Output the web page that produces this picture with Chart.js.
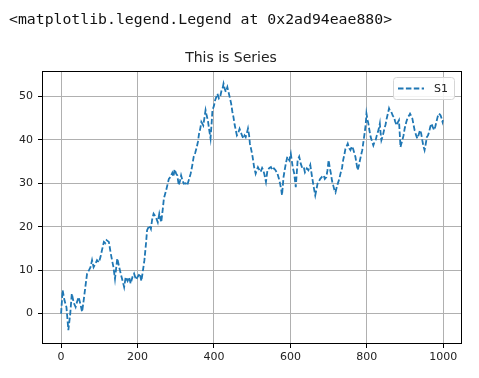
<!DOCTYPE html>
<html lang="en">
<head>
  <meta charset="UTF-8">
  <title>This is Series</title>
  <script src="https://cdn.jsdelivr.net/npm/chart.js"></script>
  <style>
    * {
      margin: 0;
      padding: 0;
    }
    body {
      width: 479px;
      height: 378px;
      background: #fff;
      position: relative;
      overflow: hidden;
    }
    #repr {
      position: absolute;
      left: 9px;
      top: 10px;
      font-family: "DejaVu Sans Mono", monospace;
      font-size: 14.8px;
      line-height: 17px;
      color: #111;
      white-space: pre;
    }
    #chart-box {
      position: absolute;
      left: 0;
      top: 0;
      width: 479px;
      height: 378px;
    }
  </style>
</head>
<body>
  <div id="chart-box">
    <canvas id="series-chart" width="479" height="378"></canvas>
  </div>
  <div id="repr">&lt;matplotlib.legend.Legend at 0x2ad94eae880&gt;</div>

  <script>
    // values (index -> value)
    var seriesIndex = [
      0, 4, 9, 14, 19, 24, 28, 33, 38, 42, 46, 51, 55, 59, 64, 68, 73, 77, 81, 85,
      90, 94, 99, 103, 107, 112, 116, 119, 125, 130, 134, 137, 141, 147, 152, 156, 161, 165, 169, 174,
      178, 182, 187, 191, 196, 200, 206, 210, 213, 218, 222, 225, 231, 235, 238, 242, 248, 253, 257, 262,
      266, 269, 275, 279, 282, 286, 291, 294, 297, 301, 304, 308, 311, 314, 318, 321, 326, 330, 335, 339,
      343, 347, 351, 355, 358, 361, 364, 367, 372, 375, 378, 381, 384, 388, 391, 394, 396, 400, 403, 406,
      409, 413, 416, 420, 423, 425, 428, 431, 435, 439, 442, 445, 448, 451, 454, 457, 460, 463, 467, 470,
      474, 477, 480, 483, 486, 489, 492, 494, 498, 501, 505, 509, 512, 515, 519, 522, 526, 529, 532, 536,
      540, 545, 549, 553, 557, 561, 566, 570, 573, 576, 578, 582, 585, 588, 592, 597, 601, 606, 610, 614,
      619, 623, 627, 631, 635, 638, 643, 647, 652, 656, 661, 665, 668, 671, 675, 678, 683, 687, 690, 694,
      697, 700, 703, 706, 709, 712, 715, 718, 721, 724, 728, 731, 735, 738, 741, 744, 747, 750, 754, 757,
      761, 764, 767, 770, 773, 776, 779, 782, 785, 788, 791, 794, 797, 799, 802, 804, 807, 810, 814, 817,
      820, 823, 826, 829, 832, 834, 836, 838, 842, 845, 849, 852, 855, 858, 861, 864, 868, 871, 874, 878,
      881, 884, 886, 888, 890, 893, 896, 899, 903, 906, 910, 913, 916, 919, 922, 925, 929, 932, 935, 939,
      942, 945, 948, 951, 954, 957, 960, 963, 966, 969, 972, 976, 979, 982, 985, 988, 991, 993, 996, 998,
      999
    ];
    var seriesValues = [
      0, 5.4, 3, 1.5, -3.8, 0, 4.6, 2.5, 1.5, 2.8, 3.8, 2, 0.4, 3, 6.5, 9.2, 10, 10.7, 12.3, 10.7,
      11.5, 12.3, 11.8, 13, 14.6, 16.5, 16.2, 16.9, 16.5, 13.8, 12, 10.7, 8, 12.7, 10.7, 9.2, 7.5, 6.1, 8.4, 7.5,
      8.4, 6.9, 8.5, 9.2, 7.8, 8.4, 9.2, 7.5, 9.2, 12.3, 16, 19.2, 20.3, 19.5, 21.5, 23, 22.2, 21, 23, 21,
      24, 26.5, 28.4, 29.9, 31, 31.4, 32.4, 31.5, 33.2, 32.2, 31.8, 29.5, 30.5, 31.8, 30.5, 29.9, 30, 29.5, 31, 32.2,
      34, 36.1, 37, 38.3, 39.5, 41.4, 42.5, 44.1, 43.3, 45, 46.8, 45.5, 44.5, 42, 40.3, 44, 46.8, 47.8, 49.1, 49.8,
      50.6, 49.5, 49.8, 51.4, 52, 52.9, 51.8, 51, 52.1, 50.6, 49.5, 48.3, 46.5, 45.2, 43.5, 42.2, 41, 41.4, 42.5, 41.8,
      40.8, 40.3, 41, 40.6, 41.5, 42.6, 41, 39.1, 37.5, 36.1, 33.7, 32.2, 33, 33.7, 33, 32.6, 33.5, 33, 32, 30.3,
      33, 33.5, 33.7, 33, 33.4, 33, 32.2, 31, 29.9, 28.5, 27.2, 31.4, 33, 34.5, 36.1, 35.3, 36.8, 33.7, 32.2, 29.1,
      35.3, 36.1, 34.5, 33.5, 33.7, 32.5, 33.4, 33, 34.2, 31.8, 29.1, 27.2, 28.5, 29.9, 30.5, 31, 31.5, 31.8, 31, 31.4,
      33, 35.3, 33.5, 32.2, 30.5, 29.5, 28.5, 27.9, 29, 29.9, 31, 32.2, 33.5, 35.3, 36.5, 37.9, 38.5, 39.1, 38, 37.6,
      38.5, 37.9, 37, 36.1, 34.5, 33, 34, 35.3, 36.5, 37.6, 39.5, 41.4, 43.5, 46, 44.5, 43.7, 42, 40.6, 39.5, 38.7,
      39.5, 39.9, 41, 41.8, 42.8, 43.7, 41.5, 39.9, 41, 42.2, 43.5, 44.9, 46, 47.2, 46.5, 46.4, 45.5, 45.2, 44.2, 43.3,
      44, 44.5, 41.5, 38.3, 39, 39.9, 41, 42.6, 44, 44.9, 45.5, 46, 45.5, 44.9, 43.5, 42.2, 41, 40.3, 41, 42.2,
      41.5, 39.9, 38.5, 37.6, 39, 40.6, 41, 41.8, 43, 43.7, 43, 42.2, 43, 44.1, 45.2, 46, 45.8, 45.6, 44.8, 44.1,
      44.5
    ];
    var seriesName = 'S1';
    var xTicks = [0, 200, 400, 600, 800, 1000];
    var yTicks = [0, 10, 20, 30, 40, 50];

    Chart.defaults.font.family = '"DejaVu Sans", sans-serif';
    Chart.defaults.color = '#222';

    var points = seriesIndex.map(function(x, i) {
      return { x: x, y: seriesValues[i] };
    });

    var lineBlue = '#1f77b4';
    var dashPattern = [5.5, 2.4];

    // black frame round the plot, like the matplotlib spines
    var framePlugin = {
      id: 'frame',
      afterDatasetsDraw: function(chart) {
        var a = chart.chartArea;
        var ctx = chart.ctx;
        ctx.save();
        ctx.strokeStyle = '#000';
        ctx.lineWidth = 1;
        ctx.strokeRect(Math.round(a.left) + 0.5, Math.round(a.top) + 0.5,
          Math.round(a.right - a.left) - 1, Math.round(a.bottom - a.top) - 1);
        ctx.restore();
      }
    };

    // legend box in the upper right corner inside the axes
    var insideLegend = {
      id: 'insideLegend',
      afterDraw: function(chart) {
        var ds = chart.data.datasets[0];
        var a = chart.chartArea;
        var ctx = chart.ctx;
        var w = 61, h = 22;
        var x = a.right - 8 - w, y = a.top + 6;
        ctx.save();
        ctx.fillStyle = 'rgba(255,255,255,0.85)';
        ctx.strokeStyle = '#d6d6d6';
        ctx.lineWidth = 1;
        ctx.beginPath();
        ctx.roundRect(x + 0.5, y + 0.5, w, h, 3);
        ctx.fill();
        ctx.stroke();

        ctx.strokeStyle = ds.borderColor;
        ctx.lineWidth = ds.borderWidth;
        ctx.setLineDash(ds.borderDash);
        ctx.beginPath();
        ctx.moveTo(x + 5, y + h / 2 + 0.5);
        ctx.lineTo(x + 31, y + h / 2 + 0.5);
        ctx.stroke();
        ctx.setLineDash([]);

        ctx.fillStyle = '#222';
        ctx.font = '11px "DejaVu Sans", sans-serif';
        ctx.textBaseline = 'middle';
        ctx.textAlign = 'left';
        ctx.fillText(ds.label, x + 41, y + h / 2 + 1);
        ctx.restore();
      }
    };

    var plainTick = function(v) { return String(v); };

    var ctx = document.getElementById('series-chart').getContext('2d');
    var seriesChart = new Chart(ctx, {
      type: 'line',
      data: {
        datasets: [{
          label: seriesName,
          data: points,
          borderColor: lineBlue,
          backgroundColor: lineBlue,
          borderWidth: 1.8,
          borderDash: dashPattern,
          pointRadius: 0,
          tension: 0,
          fill: false
        }]
      },
      options: {
        responsive: false,
        animation: false,
        parsing: false,
        layout: {
          padding: { left: 0, right: 17, top: 0, bottom: 0 }
        },
        plugins: {
          legend: { display: false },
          tooltip: { enabled: false },
          title: {
            display: true,
            text: 'This is Series',
            color: '#222',
            font: { size: 14, weight: 'normal' },
            padding: { top: 50, bottom: 4.2 }
          }
        },
        scales: {
          x: {
            type: 'linear',
            min: -49.95,
            max: 1048.95,
            afterFit: function(s) { s.height = 34; },
            afterBuildTicks: function(s) {
              s.ticks = xTicks.map(function(v) { return { value: v }; });
            },
            border: { display: false },
            grid: {
              color: '#b0b0b0',
              lineWidth: 1,
              tickColor: '#000',
              tickLength: 4
            },
            ticks: {
              font: { size: 11 },
              color: '#222',
              padding: 3,
              maxRotation: 0,
              callback: plainTick
            }
          },
          y: {
            type: 'linear',
            min: -6.99,
            max: 55.81,
            afterFit: function(s) { s.width = 42; },
            afterBuildTicks: function(s) {
              s.ticks = yTicks.map(function(v) { return { value: v }; });
            },
            border: { display: false },
            grid: {
              color: '#b0b0b0',
              lineWidth: 1,
              tickColor: '#000',
              tickLength: 4
            },
            ticks: {
              font: { size: 11 },
              color: '#222',
              padding: 5,
              callback: plainTick
            }
          }
        }
      },
      plugins: [framePlugin, insideLegend]
    });
  </script>
</body>
</html>
